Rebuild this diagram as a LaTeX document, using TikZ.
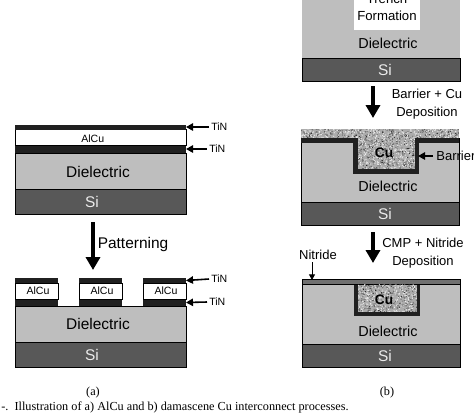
\documentclass[tikz,border=0pt]{standalone}
\usepackage{fontspec}
\setmainfont{Liberation Sans}
\newfontfamily\capfont{Liberation Serif}
\usetikzlibrary{arrows.meta,fit,positioning}
\definecolor{softgray}{RGB}{190,190,190}
\definecolor{deepgray}{RGB}{88,88,88}
\definecolor{tingray}{RGB}{32,32,32}
\definecolor{nitridegray}{RGB}{112,112,112}
\definecolor{cugray}{RGB}{172,172,172}
\tikzset{
  layer/.style={inner sep=0pt, outer sep=0pt},
  dielectric/.style={layer, draw=black, line width=0.3pt, fill=softgray},
  silicon/.style={layer, draw=black, line width=0.3pt, fill=deepgray},
  tinfilm/.style={layer, fill=tingray},
  whitefilm/.style={layer, draw=black, line width=0.3pt, fill=white},
  bigarrow/.style={line width=2.3pt, -{Triangle[length=7.4pt,width=8pt]}},
  tinarrow/.style={line width=0.9pt, -{Triangle[length=4pt,width=4.2pt]}},
  lbl/.style={font=\fontsize{8.8}{10}\selectfont, inner sep=0pt},
  silbl/.style={lbl, text=white!92!black},
  smalllbl/.style={font=\fontsize{7.4}{9}\selectfont, inner sep=0pt},
  tinlbl/.style={font=\fontsize{6}{7}\selectfont, inner sep=0pt},
  cutext/.style={font=\bfseries\fontsize{7.8}{9}\selectfont, inner sep=0pt},
  serif/.style={font=\capfont\fontsize{6.97}{8}\selectfont, inner sep=0pt},
}
\begin{document}
\begin{tikzpicture}[x=0.02cm, y=-0.02cm]
    \clip (0,0) rectangle (474,414);
    \fill[white] (0,0) rectangle (474,414);

    % panel (a), before patterning
    \node[silicon, fit={(15,189) (186,214.5)}] (siA) {};
    \node[dielectric, fit={(15,153) (186,189)}] (dielA) {};
    \node[tinfilm, fit={(15,145) (186,153)}] (tinAlow) {};
    \node[whitefilm, fit={(15,129.5) (186,145)}] (alcuA) {};
    \node[tinfilm, fit={(15,124.5) (186,129.5)}] (tinAtop) {};
    \node[tinlbl, anchor=west] (labAlcuA) at (81,139) {AlCu};
    \node[lbl] (labDielA) at (98,172) {Dielectric};
    \node[silbl] (labSiA) at (92,202) {Si};
    \node[tinlbl, anchor=west] (labTinAtop) at (211,127) {TiN};
    \node[tinlbl, anchor=west] (labTinAlow) at (209,149) {TiN};
    \draw[tinarrow] (labTinAtop.west) ++(-2,0) -- (tinAtop.east);
    \draw[tinarrow] (labTinAlow.west) ++(-2,0) -- (tinAlow.east);

    % patterning step
    \coordinate (patFrom) at (93,222);
    \coordinate (patTo) at (93,270);
    \draw[bigarrow] (patFrom) -- (patTo);
    \node[lbl] (labPat) at (133,244) {Patterning};

    % panel (a), after patterning
    \node[silicon, fit={(15,342) (186,367)}] (siB) {};
    \node[dielectric, fit={(15,306) (186,342)}] (dielB) {};
    \foreach \name/\xa/\xb/\xt in {one/15/58/38, two/79/122/102, three/143/186/166} {
      \node[tinfilm, fit={(\xa,299) (\xb,306)}] (tinlow\name) {};
      \node[whitefilm, fit={(\xa,283) (\xb,299)}] (alcu\name) {};
      \node[tinfilm, fit={(\xa,278) (\xb,283)}] (tintop\name) {};
      \node[tinlbl] (labAlcu\name) at (\xt,291) {AlCu};
    }
    \node[lbl] (labDielB) at (98,324) {Dielectric};
    \node[silbl] (labSiB) at (92,355) {Si};
    \node[tinlbl, anchor=west] (labTinBtop) at (211,279) {TiN};
    \node[tinlbl, anchor=west] (labTinBlow) at (209,302) {TiN};
    \draw[tinarrow] (labTinBtop.west) ++(-2,0) -- (tintopthree.east);
    \draw[tinarrow] (labTinBlow.west) ++(-2,0) -- (tinlowthree.east);
    \node[serif] (capA) at (93,393) {(a)};

    % panel (b), trench
    \node[layer, fill=softgray, fit={(302,-5) (460,58.5)}] (dielC) {};
    \node[layer, fill=white, fit={(354,-5) (420,30)}] (trench) {};
    \node[silicon, fit={(302,58.5) (460,81)}] (siC) {};
    \node[font=\fontsize{7.5}{9.6}\selectfont, inner sep=0pt, align=center, anchor=south] (labTrench) at (387,21) {Trench\\Formation};
    \node[font=\fontsize{8.2}{10}\selectfont, inner sep=0pt] (labDielC) at (388,43) {Dielectric};
    \node[silbl] (labSiC) at (385,70) {Si};

    % barrier and copper step
    \coordinate (depFrom) at (373,86);
    \coordinate (depTo) at (373,118);
    \draw[bigarrow] (depFrom) -- (depTo);
    \node[smalllbl, align=center] (labDep) at (427,104) {Barrier + Cu\\[1.5pt]Deposition};

    % panel (b), filled
    \node[silicon, fit={(301,202) (459,225)}] (siD) {};
    \node[dielectric, fit={(301,138) (459,202)}] (dielD) {};
    \begin{scope}
      \clip (301,129) -- (459,129) -- (459,140) -- (416,140) -- (416,170) -- (357,170) -- (357,140) -- (301,140) -- cycle;
      \fill[cugray] (301,129) rectangle (459,172);
      \pgfmathsetseed{4711}
      \foreach \i in {1,...,2600} {
        \pgfmathsetmacro{\dotx}{301+158*rnd}
        \pgfmathsetmacro{\doty}{129+41*rnd}
        \pgfmathsetmacro{\dotg}{rnd>0.5?8:(rnd>0.2?60:85)}
        \fill[black!\dotg!white] (\dotx,\doty) circle (0.6);
      }
    \end{scope}
    \draw[line width=2.6pt, tingray] (301,140.5) -- (355.7,140.5) -- (355.7,171.5) -- (417,171.5) -- (417,140.5) -- (459,140.5);
    \node[cutext] (labCuD) at (384,153) {Cu};
    \node[font=\fontsize{8.2}{10}\selectfont, inner sep=0pt] (labDielD) at (388,186) {Dielectric};
    \node[silbl] (labSiD) at (385,214) {Si};
    \node[smalllbl, anchor=west] (labBarrier) at (436,156) {Barrier};
    \coordinate (barrierEnd) at (418,156);
    \draw[tinarrow] (labBarrier.west) ++(-3,0) -- (barrierEnd);

    % CMP step
    \coordinate (cmpFrom) at (373,232);
    \coordinate (cmpTo) at (373,263);
    \draw[bigarrow] (cmpFrom) -- (cmpTo);
    \node[smalllbl, align=center] (labCmp) at (423,253) {CMP + Nitride\\[1.5pt]Deposition};

    % panel (b), polished
    \node[silicon, fit={(302,344) (460,367)}] (siE) {};
    \node[dielectric, fit={(302,284.5) (460,344)}] (dielE) {};
    \node[layer, draw=black, line width=0.3pt, fill=nitridegray, fit={(302,279.5) (460,284.5)}] (nitride) {};
    \begin{scope}
      \clip (357,284.5) rectangle (418,313);
      \fill[cugray] (357,284.5) rectangle (418,313);
      \pgfmathsetseed{815}
      \foreach \i in {1,...,640} {
        \pgfmathsetmacro{\dotx}{357+61*rnd}
        \pgfmathsetmacro{\doty}{284.5+28*rnd}
        \pgfmathsetmacro{\dotg}{rnd>0.5?8:(rnd>0.2?60:85)}
        \fill[black!\dotg!white] (\dotx,\doty) circle (0.6);
      }
    \end{scope}
    \draw[line width=2pt, tingray] (356.2,284.5) -- (356.2,314) -- (418.5,314) -- (418.5,284.5);
    \node[cutext] (labCuE) at (384,300) {Cu};
    \node[font=\fontsize{8.2}{10}\selectfont, inner sep=0pt] (labDielE) at (388,331) {Dielectric};
    \node[silbl] (labSiE) at (385,356) {Si};
    \node[smalllbl] (labNitride) at (318,255) {Nitride};
    \coordinate (nitrideEnd) at (312,280);
    \draw[line width=0.5pt, -{Triangle[length=3.2pt,width=3.4pt]}] (labNitride.south -| nitrideEnd) ++(0,2) -- (nitrideEnd);
    \node[serif] (capB) at (387,393) {(b)};

    \node[serif, anchor=west] (caption) at (1,407) {-.\ \ Illustration of a) AlCu and b) damascene Cu interconnect processes.};
  \end{tikzpicture}
\end{document}
